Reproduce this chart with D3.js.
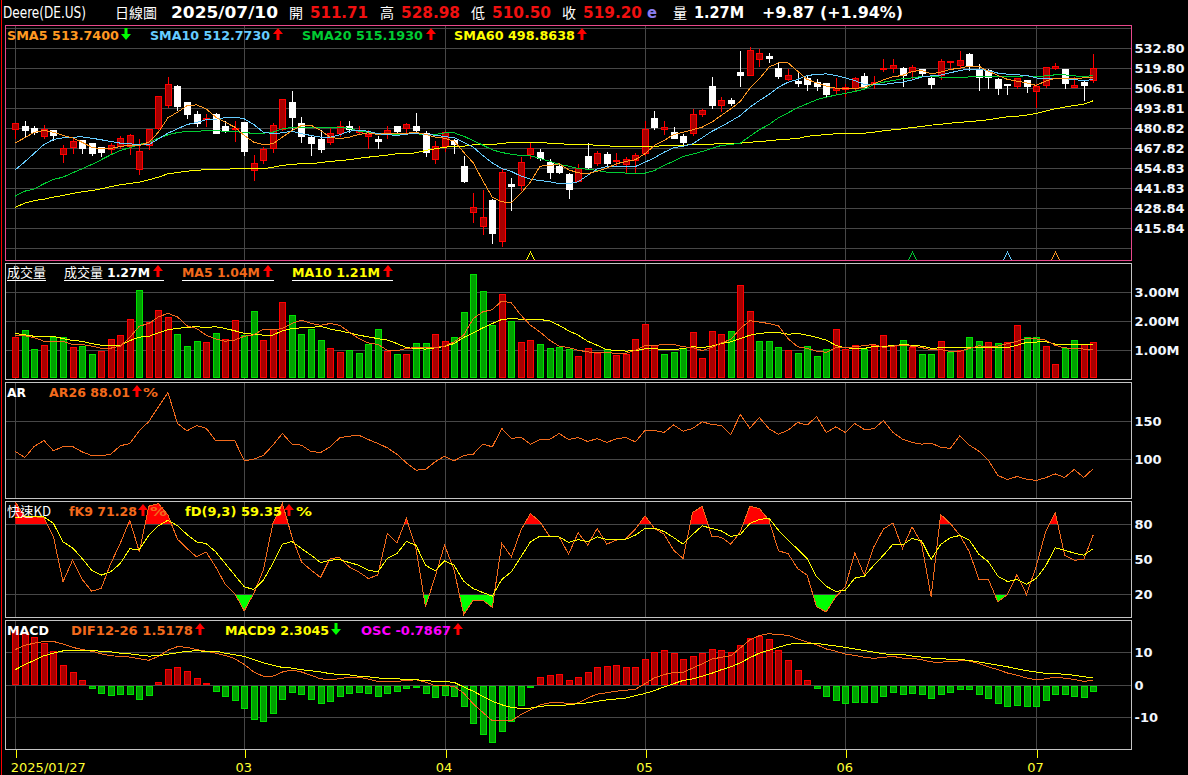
<!DOCTYPE html>
<html>
<head>
<meta charset="utf-8">
<title>Deere(DE.US)</title>
<script src="https://cdn.jsdelivr.net/npm/d3@7"></script>
<style>
    html,body{margin:0;padding:0;background:#000;overflow:hidden}
    svg{display:block}
    text{font-family:"DejaVu Sans",sans-serif}
    .cjk{font-family:"Noto Sans CJK TC",sans-serif}
</style>
</head>
<body>
<svg id="drawing_region"></svg>
<script>
// daily candles, 2025/01/27 .. 2025/07/10 (114 sessions)
const opens = [480.0,482.1,480.8,475.2,478.9,463.5,468.3,472.8,470.9,468.0,466.7,468.7,468.7,453.8,469.6,480.4,495.6,508.1,497.1,489.9,486.5,489.9,482.1,480.0,484.1,453.1,459.6,467.6,480.0,497.7,483.9,474.8,473.5,471.5,476.9,481.9,478.0,475.4,473.5,476.5,481.5,480.8,481.5,477.4,460.2,468.7,473.0,456.1,425.8,416.7,433.4,407.0,444.4,443.4,463.5,464.6,458.1,455.5,450.3,445.9,462.6,457.6,463.9,459.0,457.0,459.6,464.1,486.7,480.0,478.2,475.2,477.1,490.1,507.5,495.3,498.4,517.2,515.5,525.2,527.4,519.2,512.2,511.1,512.7,510.1,509.9,504.7,505.7,506.4,514.6,509.4,518.9,519.4,519.8,517.4,518.7,512.7,514.8,523.1,521.3,528.3,518.7,518.1,512.5,508.8,507.7,511.8,504.7,508.6,519.6,518.9,507.2,510.7,511.71]
const highs = [483.9,486.0,482.6,483.2,479.5,469.8,474.1,473.5,470.9,469.1,471.5,476.1,477.4,474.3,480.6,501.8,514.6,509.4,498.2,492.5,490.4,490.8,486.0,485.4,484.7,463.3,468.5,484.7,500.3,504.9,488.6,476.3,480.0,481.5,485.8,485.8,482.6,480.0,475.8,482.6,482.1,484.7,490.6,479.3,473.0,479.1,474.3,463.1,438.6,441.0,434.7,455.3,448.8,462.6,472.0,467.2,461.3,457.9,451.8,457.9,471.5,466.5,465.7,465.0,462.6,465.2,485.4,491.9,485.4,481.7,477.4,493.8,493.6,514.0,501.6,500.8,531.5,533.5,532.2,529.8,523.5,519.2,516.6,515.3,512.9,510.1,513.7,509.9,514.4,516.6,514.8,525.7,525.7,520.7,521.8,519.6,515.9,526.3,525.0,531.5,529.6,522.8,519.6,513.5,509.4,513.7,512.4,509.9,520.7,523.7,519.2,514.4,512.0,528.98]
const lows = [474.1,475.6,476.7,473.9,472.8,458.1,464.1,464.1,462.8,462.2,463.3,467.6,463.5,450.5,466.7,480.0,494.3,492.5,486.9,481.5,482.1,477.1,478.2,472.0,462.8,447.0,457.9,464.6,479.1,479.1,471.7,462.8,464.6,469.8,475.0,478.0,476.5,467.2,467.8,473.9,477.8,476.3,478.2,462.2,457.6,465.4,464.1,445.7,419.1,411.3,405.7,403.5,427.5,440.5,460.9,460.0,447.7,451.2,435.3,445.9,454.6,456.4,456.6,456.1,452.2,451.6,463.1,480.0,476.3,474.1,468.5,475.8,488.4,493.2,491.7,495.3,507.5,515.5,520.5,523.5,513.3,511.8,508.1,505.1,505.1,501.6,503.1,501.2,505.5,506.8,506.4,517.4,516.6,508.1,513.3,514.0,506.8,512.2,518.9,520.2,518.1,505.1,506.8,502.5,502.5,506.4,503.8,494.3,507.0,518.7,506.2,507.0,499.0,510.50]
const closes = [483.9,479.7,478.0,479.7,475.8,467.2,472.2,467.4,464.1,464.8,469.6,474.1,476.1,465.7,480.0,501.4,509.2,495.1,489.3,484.3,487.1,477.6,479.5,480.8,465.2,457.9,467.0,482.6,499.5,488.2,475.2,470.6,466.7,477.1,481.5,480.2,479.5,476.7,471.9,479.3,478.2,483.2,478.7,464.8,468.9,477.8,470.2,446.4,429.3,422.8,412.2,452.0,443.4,458.5,467.6,460.9,451.6,451.6,440.5,454.6,455.5,464.4,458.3,459.8,460.2,463.1,480.0,480.6,481.3,474.5,471.5,489.7,492.5,495.1,498.4,496.4,515.5,531.5,529.3,525.9,514.0,515.0,510.1,508.8,507.5,502.9,506.2,507.3,512.9,507.3,510.5,519.6,521.5,515.0,520.2,516.1,508.8,524.1,523.9,524.8,520.7,513.5,513.5,506.4,507.9,513.1,507.7,508.1,520.0,520.9,509.6,508.3,509.0,519.20]

const sma5 = [471.5,474.8,478.4,479.5,478.4,476.3,474.8,471.9,468.7,467.6,467.8,469.1,470.0,469.8,471.9,478.4,487.8,491.4,495.6,496.2,493.6,488.2,484.9,481.7,476.3,471.9,470.4,470.9,475.2,479.5,482.8,483.0,479.5,475.2,474.1,475.2,476.9,478.0,476.9,477.8,477.4,477.8,478.2,477.1,475.2,474.5,472.6,465.4,458.5,447.0,436.2,433.2,432.5,438.8,446.0,456.4,456.6,457.9,454.0,452.0,451.4,453.1,455.0,457.9,459.4,460.5,464.4,469.8,473.0,476.9,478.4,480.0,481.7,484.9,489.3,493.6,498.4,507.0,513.1,520.7,523.5,523.5,518.1,512.7,510.5,508.3,507.0,506.6,506.6,507.7,509.9,512.4,514.4,515.3,517.9,518.5,516.3,517.4,519.2,520.0,521.3,521.3,518.1,515.3,512.7,511.6,510.5,508.8,511.6,513.5,513.3,513.3,513.7,513.74]
const sma10 = [454.0,459.2,464.8,470.4,473.7,474.8,475.2,475.4,474.5,473.5,472.4,471.3,470.9,470.2,470.4,474.1,477.8,480.6,483.4,484.7,486.5,486.9,487.8,488.2,487.1,483.4,478.4,477.6,478.0,479.1,477.4,476.3,475.2,475.2,476.7,479.1,479.5,479.1,477.4,476.9,476.3,477.1,477.8,476.9,476.5,475.6,474.8,471.9,468.7,463.3,458.5,454.8,452.9,449.9,447.9,447.0,446.2,445.1,444.9,446.2,450.3,454.6,456.1,456.4,456.1,456.1,458.9,461.8,465.4,468.3,469.3,470.9,474.8,478.9,482.1,485.6,489.3,494.7,499.0,502.9,507.7,510.9,512.7,515.3,515.9,516.3,515.3,513.7,512.0,509.4,509.2,509.4,510.3,510.9,512.4,514.2,515.0,515.5,517.0,518.5,519.4,519.2,518.5,516.8,516.1,515.7,515.3,513.7,513.1,513.1,513.1,512.7,511.8,512.77]
const sma20 = [436.9,440.1,441.6,444.9,447.7,449.2,452.0,454.6,457.4,460.5,463.7,466.5,468.3,470.4,471.9,474.5,476.7,478.2,478.9,479.1,479.3,479.3,479.1,478.9,478.0,477.8,477.8,478.4,480.6,481.5,481.7,481.7,481.5,481.5,481.7,481.0,479.1,478.4,477.4,476.9,476.9,477.4,477.4,476.9,476.9,478.0,478.0,475.8,473.0,470.0,467.0,465.2,464.1,463.3,463.1,461.3,459.6,457.4,456.4,454.8,454.4,453.5,452.5,452.5,451.8,451.4,451.8,453.5,456.8,459.6,462.6,464.1,465.9,467.8,469.8,470.4,471.3,475.8,480.0,483.4,487.8,491.0,494.3,496.9,499.5,501.2,502.5,503.6,504.9,506.4,509.4,510.9,512.0,513.1,513.7,514.6,514.8,514.2,513.7,513.7,514.4,514.4,514.6,514.8,514.8,514.8,515.0,514.6,515.0,515.7,515.7,515.0,514.6,515.19]
const sma60 = [429.7,432.3,434.0,434.9,436.2,437.3,438.6,439.7,440.5,441.6,443.1,444.2,445.1,446.0,447.5,449.2,451.4,452.2,453.1,453.5,454.2,454.4,454.4,454.6,454.6,454.6,454.6,455.7,456.8,457.6,457.9,457.9,458.7,459.4,460.0,460.5,461.5,462.2,462.9,463.5,464.4,464.4,465.0,466.5,467.6,468.7,469.1,469.3,470.2,470.2,470.2,471.3,471.5,471.9,471.9,471.7,471.3,470.9,470.6,470.4,470.2,470.0,469.6,469.1,468.9,468.9,468.9,469.1,469.8,470.0,470.0,470.2,470.2,470.6,471.3,471.1,471.3,471.9,472.4,472.8,473.5,473.9,474.3,475.8,476.3,476.9,477.4,477.8,477.8,477.8,478.4,479.3,480.0,480.6,481.5,482.1,483.0,483.6,484.3,484.7,485.4,485.8,486.5,487.5,488.4,488.8,489.5,490.6,492.1,493.6,494.7,495.8,496.6,498.86]

// volume, in millions, r = up day, g = down day
const volumes = [1.43,1.67,1.01,1.15,1.43,1.43,1.08,1.11,0.84,0.94,1.36,1.49,2.05,3.05,1.94,2.36,2.11,1.53,1.11,1.29,1.25,1.56,1.36,2.01,1.49,2.32,1.32,1.70,2.63,2.18,1.53,1.70,1.32,1.05,0.91,0.98,0.87,1.18,1.70,0.94,0.84,0.84,1.22,1.22,1.53,1.29,1.43,2.29,3.60,3.01,1.84,2.91,1.98,1.25,1.32,1.18,1.05,1.08,1.01,0.77,1.05,0.87,1.01,0.80,0.84,1.36,1.87,1.15,0.84,0.91,1.05,1.60,0.70,1.63,1.53,1.63,3.22,2.32,1.29,1.29,1.08,0.98,0.87,1.11,0.77,1.01,1.70,1.01,1.15,1.01,1.15,1.49,1.15,1.32,1.08,0.84,0.84,1.29,0.91,0.98,1.43,1.29,1.25,1.22,1.25,1.84,1.43,1.43,1.11,0.49,1.05,1.32,1.18,1.27]
const volumeDirs = 'rggrggrggr'+'rrrgrrrggg'+'rgrrggrrrg'+'gggrrggggr'+'grggrrgggg'+'grgrrggggr'+'rrgrrrrrgg'+'grrrrgrrgg'+'grggggrrrg'+'rrrgrggrgr'+'ggrgrrggrr'+'ggrr'
const volMa5 = [1.53,1.51,1.44,1.32,1.31,1.31,1.21,1.21,1.15,1.08,1.08,1.15,1.45,1.84,1.93,2.16,2.28,2.16,1.85,1.76,1.53,1.40,1.32,1.36,1.49,1.54,1.74,1.71,1.76,1.93,2.05,1.93,1.87,1.93,1.87,1.64,1.41,1.26,1.21,1.01,0.99,1.07,1.10,1.10,1.10,1.15,1.30,1.53,2.10,2.33,2.41,2.71,2.64,2.22,1.87,1.64,1.36,1.15,1.10,1.01,0.95,0.93,0.93,0.90,0.90,1.01,1.17,1.17,1.21,1.21,1.13,1.10,1.00,1.10,1.26,1.38,1.76,2.03,1.98,1.93,1.85,1.41,1.13,1.07,0.98,0.94,1.10,1.10,1.13,1.17,1.21,1.10,1.15,1.18,1.15,1.10,1.03,1.03,0.97,0.97,1.07,1.16,1.14,1.15,1.24,1.32,1.41,1.40,1.36,1.18,1.09,1.07,1.05,1.04]
const volMa10 = [1.59,1.54,1.49,1.47,1.49,1.41,1.34,1.32,1.24,1.18,1.16,1.17,1.34,1.46,1.49,1.61,1.72,1.76,1.80,1.82,1.79,1.82,1.76,1.68,1.59,1.56,1.53,1.53,1.68,1.76,1.78,1.79,1.84,1.74,1.68,1.61,1.53,1.47,1.41,1.36,1.24,1.10,1.06,1.05,1.09,1.14,1.24,1.45,1.61,1.78,1.93,2.07,2.10,2.08,2.08,2.07,2.02,1.87,1.68,1.53,1.32,1.18,1.03,1.00,0.98,0.99,1.06,1.07,1.02,1.03,1.07,1.13,1.10,1.15,1.24,1.30,1.41,1.53,1.59,1.62,1.62,1.56,1.59,1.53,1.45,1.36,1.18,1.09,1.08,1.07,1.14,1.15,1.16,1.21,1.18,1.15,1.08,1.09,1.09,1.10,1.10,1.10,1.10,1.10,1.10,1.18,1.28,1.29,1.31,1.22,1.20,1.20,1.20,1.21]

const ar26 = [110.5,102.6,117.5,125.0,111.4,117.1,117.1,110.1,105.3,104.8,107.0,118.0,121.1,137.7,150.0,169.3,188.2,147.4,137.7,144.7,141.2,125.0,125.0,125.0,98.2,100.4,105.3,118.9,134.2,120.2,118.9,110.5,109.2,116.7,128.5,130.7,132.0,126.3,121.1,115.4,107.0,95.6,86.0,86.8,96.9,104.4,98.2,105.3,107.0,120.2,116.7,140.8,127.6,129.4,120.2,126.3,126.3,134.2,126.3,128.9,123.7,127.6,122.4,127.2,128.9,123.2,138.2,138.2,135.5,145.6,137.3,140.8,149.6,146.1,144.7,132.9,159.2,141.2,155.3,140.4,133.3,138.6,148.7,145.2,156.6,135.5,143.0,135.5,147.4,139.5,140.4,151.3,135.5,126.8,122.4,120.2,121.5,116.2,114.5,131.1,118.9,111.0,99.1,78.9,73.7,77.6,74.1,72.4,75.9,81.1,76.3,86.8,76.3,88.01]

const fastK = [99.4,86.6,86.6,86.0,69.4,30.9,49.4,33.1,22.9,25.1,46.6,63.7,83.7,56.6,95.7,98.0,88.0,67.4,59.4,52.3,56.6,43.7,28.9,20.9,6.0,20.9,40.9,80.9,98.0,69.4,48.0,40.9,34.6,50.9,51.7,43.7,39.4,33.7,36.6,72.3,64.3,85.1,59.4,9.4,35.1,62.3,40.9,2.9,15.1,15.1,8.9,63.7,52.3,75.1,89.4,82.3,70.0,69.4,54.6,72.9,62.3,76.6,63.1,66.6,67.7,76.0,87.4,76.6,71.7,58.0,50.9,90.3,95.7,70.0,69.1,63.1,73.7,95.7,93.7,83.7,57.4,55.1,42.3,36.6,9.4,5.1,18.0,26.6,55.7,36.6,60.9,76.0,81.4,59.4,78.0,63.7,18.0,88.6,80.9,70.9,56.6,33.1,32.9,13.7,20.0,37.1,20.0,43.7,73.7,90.3,53.7,49.4,50.0,71.28]
const fastD = [86.0,86.6,86.6,86.6,80.9,65.1,60.0,50.9,40.9,36.6,39.4,46.6,59.1,58.6,70.9,78.9,83.7,78.9,71.4,65.1,63.7,56.6,46.6,36.6,26.6,24.3,32.3,46.6,63.1,65.4,59.4,53.7,47.4,49.4,50.0,47.4,45.1,40.9,39.4,50.9,55.1,65.4,62.3,45.1,40.3,48.9,45.1,31.4,25.1,21.7,18.6,32.9,39.4,52.3,65.1,70.0,70.0,69.4,64.6,67.1,65.4,69.4,67.1,67.1,67.4,70.9,76.6,76.9,74.0,68.9,63.1,71.4,78.9,76.6,74.6,69.7,71.4,80.9,84.3,85.4,75.1,66.6,58.9,50.9,35.1,27.1,22.6,23.7,34.0,35.7,45.1,53.7,63.1,62.6,68.0,66.0,50.0,62.9,68.6,70.6,66.6,54.6,48.0,35.7,31.1,32.9,28.9,33.7,44.3,60.0,58.0,55.4,53.7,59.35]

const dif = [10.9,12.2,12.9,13.4,13.4,12.6,11.6,10.9,10.4,9.6,9.0,8.8,8.6,8.1,7.6,8.8,10.7,11.8,11.6,10.9,10.4,9.8,9.1,8.1,6.3,4.0,2.7,2.7,4.0,4.6,4.0,3.0,1.9,1.7,1.9,2.4,2.4,1.8,1.1,1.1,1.1,1.4,1.6,0.9,-0.2,-0.2,-0.4,-2.5,-5.8,-8.4,-11.0,-11.0,-11.0,-9.1,-7.6,-6.1,-5.5,-5.3,-5.8,-5.5,-4.0,-2.8,-2.4,-1.9,-1.6,-1.3,0.4,2.2,3.2,3.9,3.9,5.2,6.5,8.0,8.5,9.0,11.4,13.9,15.2,15.8,15.5,15.3,14.2,13.2,12.4,11.1,10.4,9.5,9.1,8.5,8.2,8.5,8.8,8.3,8.2,7.8,7.1,7.0,7.3,7.4,7.4,6.6,5.6,4.7,3.7,3.0,2.2,1.6,1.9,2.4,2.1,1.7,1.1,1.52]
const macd9 = [4.7,6.3,7.6,9.0,9.8,10.5,10.7,10.7,10.6,10.4,10.2,9.8,9.6,9.2,8.9,9.0,9.5,9.9,10.4,10.5,10.4,10.4,9.8,9.3,8.8,7.8,6.8,6.1,5.4,5.2,4.7,4.4,4.0,3.5,3.2,3.1,2.7,2.5,2.2,1.9,1.9,1.7,1.6,1.4,1.1,1.1,0.8,-0.6,-1.9,-3.5,-5.0,-6.1,-6.9,-7.2,-7.1,-6.6,-6.3,-6.3,-6.1,-5.7,-5.5,-5.0,-4.6,-4.3,-4.0,-3.3,-2.6,-1.7,-0.6,0.4,1.4,1.9,2.7,3.6,4.7,5.6,6.8,8.4,9.8,10.7,11.6,12.5,12.9,12.9,12.8,12.4,12.0,11.6,11.1,10.6,10.1,9.6,9.4,9.4,8.9,8.6,8.3,8.1,7.9,7.8,7.6,7.1,6.6,6.1,5.6,5.0,4.4,4.0,3.6,3.5,3.3,3.0,2.5,2.30]
const osc = [5.90,5.71,5.16,4.51,3.59,2.09,1.32,0.44,-0.44,-0.95,-1.17,-1.06,-1.10,-1.61,-1.17,0.22,1.65,1.87,1.43,0.66,0.11,-0.77,-1.32,-1.76,-2.64,-3.81,-4.03,-3.15,-1.65,-0.88,-1.10,-1.65,-2.09,-1.87,-1.32,-0.99,-0.88,-0.99,-1.32,-0.95,-0.77,-0.44,-0.18,-0.99,-1.43,-1.21,-1.32,-2.42,-4.25,-5.49,-6.37,-5.16,-4.07,-2.31,-0.33,0.77,0.95,1.10,0.44,0.77,1.32,1.87,1.98,2.09,1.87,1.87,2.75,3.52,3.74,3.41,2.75,3.08,3.41,3.85,3.74,3.52,4.29,5.05,5.27,4.95,3.74,2.64,1.54,0.44,-0.44,-1.32,-1.76,-2.09,-1.98,-1.98,-1.98,-1.32,-0.88,-1.10,-0.99,-1.10,-1.54,-1.10,-0.88,-0.55,-0.55,-1.10,-1.54,-2.09,-2.42,-2.31,-2.42,-2.42,-1.76,-1.10,-1.10,-1.32,-1.43,-0.79]

// axis labels
const monthIdx = [0,24,45,66,87,107]
const monthLabels = ['2025/01/27','03','04','05','06','07']
const priceTicks = [532.80,519.80,506.81,493.81,480.82,467.82,454.83,441.83,428.84,415.84]
const priceGrid = [545.79,402.85]
const volTicks = [3,2,1]
const arTicks = [150,100]
const kdTicks = [80,50,20]
const macdTicks = [10,0,-10]

// cross markers along the bottom of the price panel
const signalIdx = [54,94,104,109]
const signalColors = ['#ffff00','#00cc33','#66ccff','#ff9922']

const C = {
    sma5:'#ff9922', sma10:'#66ccff', sma20:'#00cc33', sma60:'#ffff00',
    org:'#f26a1c', yel:'#ffff00', mag:'#ff00ff',
    red:'#ff0000', dred:'#a80000', grn:'#00e000', dgrn:'#00a000',
    grid:'#474747', frame:'#c4c4c4', pink:'#e8488c', tick:'#f2f7ff'
}

const left = 5.5, right = 1131.5

const svg = d3.select('#drawing_region').attr('width',1188).attr('height',775)
svg.append('rect').attr('width',1188).attr('height',775).attr('fill','#000')

const x = d3.scaleLinear().domain([0,113]).range([15.3,1093.3])
const px = i => Math.round(x(i)) + 0.5

const yPrice = d3.scaleLinear().domain([532.80,415.84]).range([48.5,228.5])
const yVol = d3.scaleLinear().domain([0,3]).range([379.5,292.5])
const yAr = d3.scaleLinear().domain([150,100]).range([421.5,459.5])
const yKd = d3.scaleLinear().domain([80,20]).range([524.5,594.5])
const yMacd = d3.scaleLinear().domain([10,-10]).range([652.5,717.5])
const yOsc = d3.scaleLinear().domain([0,1]).range([685,675.9])

const panels = [
    {top:25.5, bottom:260.5, stroke:C.pink, scale:yPrice, grid:priceTicks.concat(priceGrid), ticks:priceTicks, fmt:d3.format('.2f')},
    {top:263.5, bottom:379.5, stroke:C.frame, scale:yVol, grid:volTicks, ticks:volTicks, fmt:d => d3.format('.2f')(d)+'M'},
    {top:382.5, bottom:498.5, stroke:C.frame, scale:yAr, grid:arTicks, ticks:arTicks, fmt:d => d},
    {top:501.5, bottom:617.5, stroke:C.frame, scale:yKd, grid:kdTicks, ticks:kdTicks, fmt:d => d},
    {top:620.5, bottom:749.5, stroke:C.frame, scale:yMacd, grid:macdTicks, ticks:macdTicks, fmt:d => d}
]

const back = svg.append('g').attr('shape-rendering','crispEdges')
const marks = svg.append('g').attr('shape-rendering','crispEdges')
const lines = svg.append('g').attr('shape-rendering','crispEdges').attr('fill','none')
const front = svg.append('g')

back.append('line').attr('x1',1.5).attr('x2',1.5).attr('y1',0).attr('y2',775).attr('stroke','#ff0000')

panels.forEach(p => {
    back.selectAll(null).data(p.grid).enter().append('line')
        .attr('x1',left).attr('x2',right)
        .attr('y1',d => Math.round(p.scale(d)-0.5)+0.5).attr('y2',d => Math.round(p.scale(d)-0.5)+0.5)
        .attr('stroke',C.grid)
    back.selectAll(null).data(monthIdx).enter().append('line')
        .attr('x1',px).attr('x2',px)
        .attr('y1',p.top).attr('y2',p.bottom)
        .attr('stroke',C.grid)
    back.append('rect')
        .attr('x',left).attr('y',p.top)
        .attr('width',right-left).attr('height',p.bottom-p.top)
        .attr('fill','none').attr('stroke',p.stroke)

    const axis = d3.axisRight(p.scale).tickValues(p.ticks).tickFormat(p.fmt).tickSize(0).tickPadding(3)
    const g = front.append('g').attr('transform',`translate(${right},0)`).call(axis)
    g.select('.domain').remove()
    g.selectAll('text')
        .attr('fill',C.tick).attr('font-size',13).attr('font-weight','bold')
        .style('font-family','"DejaVu Sans",sans-serif')
})

// date axis
const dateAxis = d3.axisBottom(x).tickValues(monthIdx).tickFormat((d,i) => monthLabels[i]).tickSize(8).tickPadding(5)
const dateG = front.append('g').attr('transform','translate(0,749.5)').call(dateAxis)
dateG.select('.domain').remove()
dateG.selectAll('line').attr('stroke','#ffff00').attr('shape-rendering','crispEdges')
    .attr('transform',(d,i) => `translate(${px(monthIdx[i])-x(monthIdx[i])},0)`)
dateG.selectAll('text').attr('fill','#ffff33').attr('font-size',13)
    .style('font-family','"DejaVu Sans",sans-serif')
    .attr('text-anchor',(d,i) => i == 0 ? 'start' : 'middle')
    .attr('dx',(d,i) => i == 0 ? -5 : -1)

// candles
const candle = marks.append('g').selectAll('g').data(d3.range(opens.length)).enter().append('g')
candle.append('line')
    .attr('x1',px).attr('x2',px)
    .attr('y1',i => yPrice(highs[i])).attr('y2',i => yPrice(lows[i]))
    .attr('stroke',i => closes[i] >= opens[i] ? C.red : '#fff')
candle.append('rect')
    .attr('x',i => px(i)-3)
    .attr('y',i => Math.round(yPrice(Math.max(opens[i],closes[i])))-0.5)
    .attr('width',6)
    .attr('height',i => Math.max(1,Math.round(Math.abs(yPrice(opens[i])-yPrice(closes[i])))))
    .attr('fill',i => closes[i] >= opens[i] ? C.dred : '#fff')
    .attr('stroke',i => closes[i] >= opens[i] ? C.red : '#fff')

// volume and osc bars
marks.append('g').selectAll('rect').data(volumes).enter().append('rect')
    .attr('x',(d,i) => px(i)-3)
    .attr('y',d => Math.round(yVol(d))-0.5)
    .attr('width',6)
    .attr('height',d => yVol(0)-1-Math.round(yVol(d))-0.5)
    .attr('fill',(d,i) => volumeDirs[i] == 'r' ? C.dred : C.dgrn)
    .attr('stroke',(d,i) => volumeDirs[i] == 'r' ? C.red : C.grn)

marks.append('g').selectAll('rect').data(osc).enter().append('rect')
    .attr('x',(d,i) => px(i)-3)
    .attr('y',d => d >= 0 ? Math.round(yOsc(d))-0.5 : 686.5)
    .attr('width',6)
    .attr('height',d => d >= 0 ? Math.max(1,685-Math.round(yOsc(d))) : Math.max(1,Math.round(yOsc(d))-687))
    .attr('fill',d => d >= 0 ? C.dred : C.dgrn)
    .attr('stroke',d => d >= 0 ? C.red : C.grn)

// KD fills above 80 and below 20, stopping short of the grid rows so no tinted line is left
const defs = svg.append('defs')
defs.append('clipPath').attr('id','kd_hi').append('rect')
    .attr('x',left).attr('y',501).attr('width',right-left).attr('height',23)
defs.append('clipPath').attr('id','kd_lo').append('rect')
    .attr('x',left).attr('y',595).attr('width',right-left).attr('height',22)
const kdArea = base => d3.area().x((d,i) => x(i)).y0(yKd(base)).y1(d => yKd(d))
marks.append('path').datum(fastK).attr('d',kdArea(80)).attr('fill',C.red).attr('clip-path','url(#kd_hi)').attr('shape-rendering','auto')
marks.append('path').datum(fastK).attr('d',kdArea(20)).attr('fill','#00ff00').attr('clip-path','url(#kd_lo)').attr('shape-rendering','auto')

const drawLine = (data,scale,color) => lines.append('path').datum(data)
    .attr('d',d3.line().x((d,i) => x(i)).y(d => scale(d)))
    .attr('stroke',color).attr('stroke-width',1)

drawLine(sma60,yPrice,C.sma60)
drawLine(sma20,yPrice,C.sma20)
drawLine(sma10,yPrice,C.sma10)
drawLine(sma5,yPrice,C.sma5)
drawLine(volMa10,yVol,C.yel)
drawLine(volMa5,yVol,C.org)
drawLine(ar26,yAr,C.org)
drawLine(fastK,yKd,C.org)
drawLine(fastD,yKd,C.yel)
drawLine(dif,yMacd,C.org)
drawLine(macd9,yMacd,C.yel)

// cross markers
lines.selectAll('path.signal').data(signalIdx).enter().append('path')
    .attr('class','signal')
    .attr('d',d => `M${px(d)-4},260L${px(d)},252L${px(d)+4},260`)
    .attr('stroke',(d,i) => signalColors[i])

// texts
const label = (tx,ty,text,color,width,opt) => {
    opt = opt || {}
    const t = front.append('text').attr('x',tx).attr('y',ty).text(text)
        .attr('fill',color)
        .attr('font-size',opt.size || 13)
        .attr('font-weight',opt.thin ? 'normal' : 'bold')
    if(opt.cjk) t.attr('class','cjk')
    if(width) t.attr('textLength',width).attr('lengthAdjust','spacingAndGlyphs')
    return t
}
const arrow = (cx,base,up) => {
    const s = up ? 1 : -1, b = up ? base : base-12
    const d = d3.path()
    d.moveTo(cx-1.5,b)
    d.lineTo(cx-1.5,b-6*s)
    d.lineTo(cx-5,b-6*s)
    d.lineTo(cx,b-12*s)
    d.lineTo(cx+5,b-6*s)
    d.lineTo(cx+1.5,b-6*s)
    d.lineTo(cx+1.5,b)
    d.closePath()
    front.append('path').attr('d',d.toString()).attr('fill',up ? '#ff0000' : '#00ff00')
}

// header
label(3,18,'Deere(DE.US)','#fff',83,{thin:true,size:15})
label(115,18,'日線圖','#fff',42,{thin:true,cjk:true,size:14})
label(171,18,'2025/07/10','#fff',107,{size:15})
label(289,18,'開','#fff',14,{thin:true,cjk:true,size:14})
label(310,18,'511.71','#f01010',58,{size:15})
label(380,18,'高','#fff',14,{thin:true,cjk:true,size:14})
label(401,18,'528.98','#f01010',59,{size:15})
label(471,18,'低','#fff',14,{thin:true,cjk:true,size:14})
label(492,18,'510.50','#f01010',59,{size:15})
label(562,18,'收','#fff',14,{thin:true,cjk:true,size:14})
label(583,18,'519.20','#f01010',59,{size:15})
label(647,18,'e','#8a7df0',10,{size:15})
label(673,18,'量','#fff',14,{thin:true,cjk:true,size:14})
label(694,18,'1.27M','#fff',50,{size:15})
label(762,18,'+9.87 (+1.94%)','#fff',141,{size:15})

// price legend
label(7,40,'SMA5 513.7400',C.sma5,112)
arrow(126,40,false)
label(150,40,'SMA10 512.7730',C.sma10,120)
arrow(278,40,true)
label(302,40,'SMA20 515.1930',C.sma20,121)
arrow(431,40,true)
label(454,40,'SMA60 498.8638',C.sma60,121)
arrow(582,40,true)

// volume legend
label(7,277,'成交量','#fff',39,{thin:true,cjk:true,size:13})
label(64,277,'成交量','#fff',39,{thin:true,cjk:true,size:13})
label(107,277,'1.27M','#fff',43)
arrow(158,277,true)
label(182,277,'MA5 1.04M',C.org,78)
arrow(268,277,true)
label(292,277,'MA10 1.21M',C.yel,88)
arrow(388,277,true)
const unders = [[7,46],[64,164],[182,274],[292,393]]
front.append('g').attr('shape-rendering','crispEdges').selectAll('line').data(unders).enter().append('line')
    .attr('x1',d => d[0]).attr('x2',d => d[1]).attr('y1',280.5).attr('y2',280.5).attr('stroke','#fff')

// AR legend
label(7,397,'AR','#fff',19)
label(49,397,'AR26 88.01',C.org,81)
arrow(137,397,true)
label(143,397,'%',C.org,15)

// KD legend
label(7,516,'快速KD','#fff',44,{thin:true,cjk:true,size:13})
label(69,516,'fK9 71.28',C.org,68)
arrow(143,516,true)
label(150,516,'%',C.org,17)
label(185,516,'fD(9,3) 59.35',C.yel,97)
arrow(289,516,true)
label(296,516,'%',C.yel,16)

// MACD legend
label(7,635,'MACD','#fff',42)
label(71,635,'DIF12-26 1.5178',C.org,122)
arrow(200,635,true)
label(225,635,'MACD9 2.3045',C.yel,104)
arrow(336,635,false)
label(361,635,'OSC -0.7867',C.mag,90)
arrow(458,635,true)
</script>
</body>
</html>
